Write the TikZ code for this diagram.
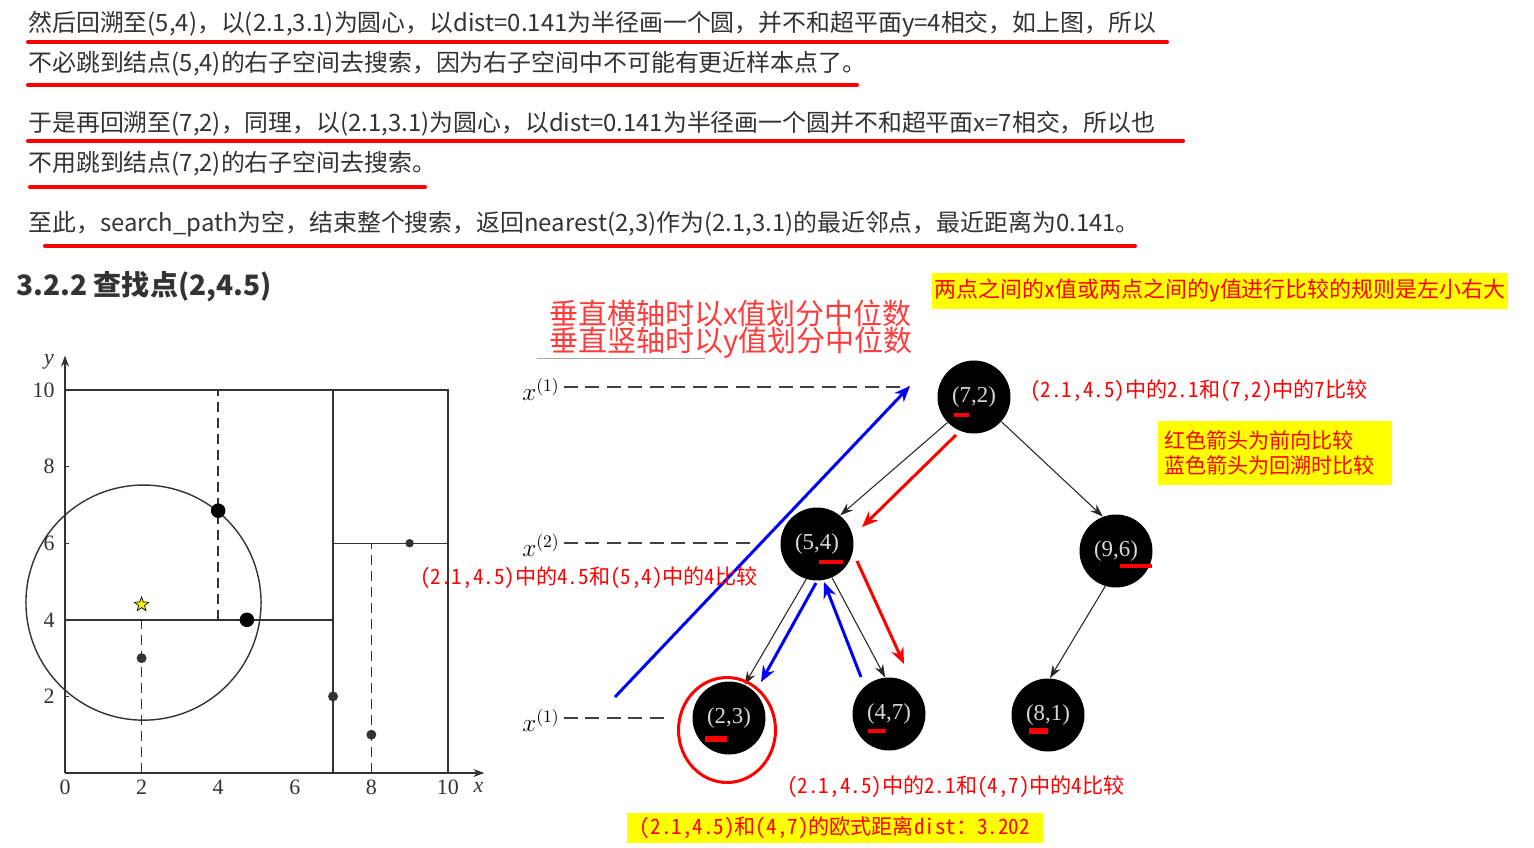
\documentclass[tikz,border=0pt]{standalone}
\usepackage{fontspec}
\setmainfont{Noto Sans CJK SC}
\newfontfamily\notefont[RawFeature=+hwid]{Noto Sans CJK SC}
\newfontfamily\plotfont{Liberation Serif}
\usetikzlibrary{arrows.meta,positioning,shapes.geometric,calc}
\definecolor{txtgray}{HTML}{333333}
\definecolor{ulred}{HTML}{FF0000}
\definecolor{notered}{HTML}{FF0000}
\definecolor{handred}{HTML}{FF3B3B}
\definecolor{arrblue}{HTML}{0000FF}
\definecolor{hlyellow}{HTML}{FFFF00}
\definecolor{plotgray}{HTML}{333333}
\tikzset{
  para/.style={anchor=west,inner sep=0pt,text=txtgray,font=\fontsize{13.6}{16}\selectfont},
  uline/.style={draw=ulred,line width=0.08cm,line cap=round},
  kd/.style={circle,fill=black,minimum size=1.46cm,inner sep=0pt,text=gray!30,font=\plotfont\fontsize{13}{13}\selectfont},
  redbar/.style={draw=ulred,line width=0.08cm},
  tr/.style={-{Stealth[length=2.6mm,width=1.8mm]},draw=black!85,line width=0.6pt},
  fwd/.style={-{Stealth[length=3.2mm,width=2.6mm,open]},draw=notered,line width=0.06cm},
  bwd/.style={fwd,draw=arrblue},
  note/.style={anchor=west,inner sep=0pt,text=notered,font=\notefont\fontsize{12}{14}\selectfont},
  hand/.style={anchor=west,inner sep=0pt,text=handred,font=\fontsize{16.5}{18}\selectfont},
  hl/.style={fill=hlyellow,inner sep=0pt,text=notered,font=\notefont\fontsize{12}{14}\selectfont},
  lvl/.style={draw=black!75,line width=0.8pt,dash pattern=on 0.28cm off 0.15cm},
  lvllab/.style={inner sep=2pt,font=\fontsize{14}{14}\selectfont},
  tick/.style={font=\plotfont\fontsize{12.5}{12.5}\selectfont,text=plotgray},
}

\begin{document}
\begin{tikzpicture}[x=0.02cm,y=-0.02cm]
\useasboundingbox[fill=white] (0,0) rectangle (1534,848);
% text above
\node[para] (p1) at (28,24) {然后回溯至(5,4)，以(2.1,3.1)为圆心，以dist=0.141为半径画一个圆，并不和超平面y=4相交，如上图，所以};
\node[para] (p2) at (28,64) {不必跳到结点(5,4)的右子空间去搜索，因为右子空间中不可能有更近样本点了。};
\node[para] (p3) at (28,124) {于是再回溯至(7,2)，同理，以(2.1,3.1)为圆心，以dist=0.141为半径画一个圆并不和超平面x=7相交，所以也};
\node[para] (p4) at (28,164) {不用跳到结点(7,2)的右子空间去搜索。};
\node[para] (p5) at (28,224) {至此，search\_path为空，结束整个搜索，返回nearest(2,3)作为(2.1,3.1)的最近邻点，最近距离为0.141。};
\draw[uline] (28,42) -- (1167,42);
\draw[uline] (28,85) -- (857,85);
\draw[uline] (28,141) -- (1183,141);
\draw[uline] (30,187) -- (425,187);
\draw[uline] (45,246) -- (1135,246);
\node[para,font=\fontsize{16}{18}\selectfont\bfseries] (head) at (16,287) {3.2.2 查找点(2,4.5)};
% hints
\node[hand] (h1) at (549,313) {垂直横轴时以x值划分中位数};
\node[hand] (h2) at (549,343) {垂直竖轴时以y值划分中位数};
\draw[gray!70,line width=0.5pt] (537,358) -- (705,358);
\node[hl,minimum width=11.52cm,minimum height=0.72cm,font=\notefont\fontsize{12.5}{14}\selectfont] (rule) at (1220,291) {两点之间的x值或两点之间的y值进行比较的规则是左小右大};
\node[hl,minimum width=4.68cm,minimum height=1.28cm,align=left,text width=4.44cm,font=\notefont\fontsize{12}{14.5}\selectfont] (legend) at (1275,453) {红色箭头为前向比较\\蓝色箭头为回溯时比较};
\node[hl,minimum width=8.34cm,minimum height=0.6cm] (dist) at (835,828) {(2.1,4.5)和(4,7)的欧式距离dist：3.202};
% partition of the plane
\begin{scope}[shift={(65,773)},x=0.766cm,y=0.766cm,draw=plotgray,line width=0.8pt]
  \draw[-{Stealth[length=2.2mm,width=1.6mm]}] (0,0) -- (10.95,0);
  \draw[-{Stealth[length=2.2mm,width=1.6mm]}] (0,0) -- (0,10.9);
  \draw (0,10) -- (10,10) -- (10,0);
  \draw[line width=1.3pt] (7,0) -- (7,10);
  \draw (0,4) -- (7,4);
  \draw (7,6) -- (10,6);
  \draw[dash pattern=on 0.2cm off 0.12cm] (4,4) -- (4,10);
  \draw[dash pattern=on 0.2cm off 0.12cm] (2,0) -- (2,4);
  \draw[dash pattern=on 0.2cm off 0.12cm] (8,0) -- (8,6);
  \foreach \t in {2,4,6,8,10} \draw (0,\t) -- (0.1,\t);
  \foreach \t in {0,2,4,6,8,10}
    \node[tick] at (\t,-0.38) {\t};
  \foreach \t in {2,4,6,8,10}
    \node[tick,anchor=east] at (-0.1,\t) {\t};
  \node[tick,font=\plotfont\itshape\fontsize{12.5}{12.5}\selectfont] at (10.8,-0.38) {x};
  \node[tick,font=\plotfont\itshape\fontsize{12.5}{12.5}\selectfont] at (-0.42,10.75) {y};
  \draw (2.05,4.45) circle [radius=3.07];
  \fill[plotgray] (2,3) circle [radius=0.13];
  \fill[black] (4,6.85) circle [radius=0.19];
  \fill[black] (4.75,4) circle [radius=0.19];
  \fill[plotgray] (7,2) circle [radius=0.13];
  \fill[plotgray] (8,1) circle [radius=0.13];
  \fill[plotgray] (9,6) circle [radius=0.11];
  \node[star,star points=5,star point ratio=2.4,fill=yellow,draw=black,line width=0.4pt,minimum size=0.3cm,inner sep=0pt] (q) at (2,4.4) {};
\end{scope}
% kd tree
\node[kd] (n72) at (974,397) {(7,2)};
\node[kd] (n54) at (817,544) {(5,4)};
\node[kd] (n96) at (1116,551) {(9,6)};
\node[kd] (n23) at (729,718) {(2,3)};
\node[kd] (n47) at (889,714) {(4,7)};
\node[kd] (n81) at (1048,715) {(8,1)};
\draw[tr] (n72.224) -- (n54.51);
\draw[tr] (n72.-42) -- (n96.111);
\draw[tr] (n54.253) -- (n23.65);
\draw[tr] (n54.294) -- (n47.96);
\draw[tr] (n96.253) -- (n81.87);
% split coordinate of each node
\draw[redbar] ($(n72)+(-20,18)$) -- ($(n72)+(-5,18)$);
\draw[redbar] ($(n54)+(2,18)$) -- ($(n54)+(26,18)$);
\draw[redbar] ($(n96)+(4,15)$) -- ($(n96)+(36,15)$);
\draw[redbar,line width=0.13cm] ($(n23)+(-24,21)$) -- ($(n23)+(-2,21)$);
\draw[redbar] ($(n47)+(-21,17)$) -- ($(n47)+(-3,17)$);
\draw[redbar,line width=0.12cm] ($(n81)+(-19,16)$) -- ($(n81)+(0,16)$);
\draw[ulred,line width=0.06cm] (727,730) ellipse [x radius=0.97cm,y radius=1.05cm];
% levels
\node[lvllab] (lv1) at (541,389) {$x^{(1)}$};
\node[lvllab] (lv2) at (541,545) {$x^{(2)}$};
\node[lvllab] (lv3) at (541,720) {$x^{(1)}$};
\coordinate (e1) at (908,387);
\coordinate (e2) at (755,543);
\coordinate (e3) at (670,718);
\draw[lvl] (lv1.east |- e1) -- (e1);
\draw[lvl] (lv2.east |- e2) -- (e2);
\draw[lvl] (lv3.east |- e3) -- (e3);
% search arrows
\coordinate (f1s) at (956,435);  \coordinate (f1e) at (862,527);
\coordinate (f2s) at (857,561);  \coordinate (f2e) at (904,664);
\coordinate (b1s) at (861,677);  \coordinate (b1e) at (824,582);
\coordinate (b2s) at (816,583);  \coordinate (b2e) at (761,682);
\coordinate (b3s) at (615,697);  \coordinate (b3e) at (910,386);
\draw[fwd] (f1s) -- (f1e);
\draw[fwd] (f2s) -- (f2e);
\draw[bwd] (b1s) -- (b1e);
\draw[bwd] (b2s) -- (b2e);
\draw[bwd] (b3s) -- (b3e);
% comparisons
\node[note] (c1) at (1030,391) {(2.1,4.5)中的2.1和(7,2)中的7比较};
\node[note] (c2) at (420,578) {(2.1,4.5)中的4.5和(5,4)中的4比较};
\node[note] (c3) at (787,787) {(2.1,4.5)中的2.1和(4,7)中的4比较};
\end{tikzpicture}
\end{document}
